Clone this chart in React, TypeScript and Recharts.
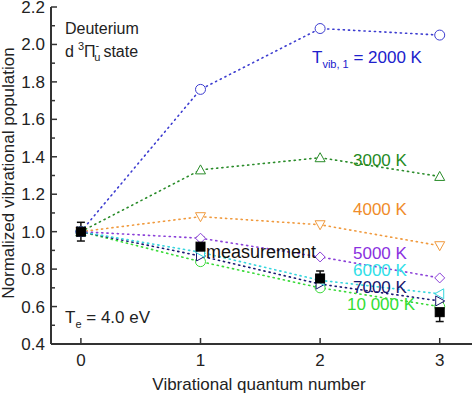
import { ComposedChart, Line, XAxis, YAxis, ErrorBar } from "recharts";

const levels = [0, 1, 2, 3];
const t2000 = [1.0, 1.76, 2.085, 2.05];
const t3000 = [1.0, 1.33, 1.395, 1.295];
const t4000 = [1.0, 1.08, 1.037, 0.925];
const t5000 = [1.0, 0.965, 0.865, 0.753];
const t6000 = [1.0, 0.89, 0.74, 0.668];
const t7000 = [1.0, 0.87, 0.72, 0.63];
const t10000 = [1.0, 0.84, 0.70, 0.60];
const measured = [1.0, 0.92, 0.75, 0.57];
const measuredErr = [0.05, 0.05, 0.04, 0.05];

const yMajor = [0.4, 0.6, 0.8, 1.0, 1.2, 1.4, 1.6, 1.8, 2.0, 2.2];
const yMinor = [0.5, 0.7, 0.9, 1.1, 1.3, 1.5, 1.7, 1.9, 2.1];
const xMajor = [0, 1, 2, 3];

const data = levels.map((v, i) => ({
  v,
  t2000: t2000[i],
  t3000: t3000[i],
  t4000: t4000[i],
  t5000: t5000[i],
  t6000: t6000[i],
  t7000: t7000[i],
  t10000: t10000[i],
  meas: measured[i],
  err: measuredErr[i],
}));

const FONT = "'Liberation Sans', Arial, sans-serif";
const AXIS = "#333";

const isMajor = (v: number) => yMajor.some((m) => Math.abs(m - v) < 1e-6);

const LeftTick = (p: any) => {
  const major = isMajor(p.payload.value);
  return (
    <g>
      <line x1={p.x} x2={p.x + (major ? 6 : 4)} y1={p.y} y2={p.y} stroke={AXIS} strokeWidth={1.5} />
      {major && (
        <text x={p.x - 6} y={p.y + 6} textAnchor="end" fontSize={17} fontFamily={FONT} fill="#222">
          {p.payload.value.toFixed(1)}
        </text>
      )}
    </g>
  );
};

const RightTick = (p: any) => {
  const major = isMajor(p.payload.value);
  return <line x1={p.x} x2={p.x - (major ? 6 : 4)} y1={p.y} y2={p.y} stroke={AXIS} strokeWidth={1.5} />;
};

const BottomTick = (p: any) => (
  <g>
    <line x1={p.x} x2={p.x} y1={p.y} y2={p.y - 6} stroke={AXIS} strokeWidth={1.5} />
    <text x={p.x} y={p.y + 22} textAnchor="middle" fontSize={17} fontFamily={FONT} fill="#222">
      {p.payload.value}
    </text>
  </g>
);

const TopTick = (p: any) => <line x1={p.x} x2={p.x} y1={p.y} y2={p.y + 7} stroke={AXIS} strokeWidth={1.5} />;

const makeDot = (shape: string, color: string) => (p: any) => {
  const { cx, cy, index } = p;
  if (cx == null || cy == null) return <g key={index} />;
  const s = 5;
  let el;
  if (shape === "circle") el = <circle cx={cx} cy={cy} r={s} />;
  else if (shape === "up") el = <polygon points={`${cx},${cy - s} ${cx - s},${cy + s * 0.8} ${cx + s},${cy + s * 0.8}`} />;
  else if (shape === "down") el = <polygon points={`${cx},${cy + s} ${cx - s},${cy - s * 0.8} ${cx + s},${cy - s * 0.8}`} />;
  else if (shape === "diamond") el = <polygon points={`${cx},${cy - s} ${cx + s},${cy} ${cx},${cy + s} ${cx - s},${cy}`} />;
  else if (shape === "left") el = <polygon points={`${cx - s},${cy} ${cx + s * 0.8},${cy - s} ${cx + s * 0.8},${cy + s}`} />;
  else if (shape === "right") el = <polygon points={`${cx + s},${cy} ${cx - s * 0.8},${cy - s} ${cx - s * 0.8},${cy + s}`} />;
  else el = <rect x={cx - 4.5} y={cy - 4.5} width={9} height={9} />;
  const filled = shape === "square";
  return (
    <g key={index} fill={filled ? "#000" : "#fff"} stroke={color} strokeWidth={1}>
      {el}
    </g>
  );
};

const series = [
  { key: "t10000", color: "#3ada3a", shape: "circle" },
  { key: "t7000", color: "#1a1a72", shape: "right" },
  { key: "t6000", color: "#36d6de", shape: "left" },
  { key: "t5000", color: "#8a3fd8", shape: "diamond" },
  { key: "t4000", color: "#f09a3e", shape: "down" },
  { key: "t3000", color: "#2a8c2a", shape: "up" },
  { key: "t2000", color: "#3c3cd0", shape: "circle" },
];

export default function App() {
  return (
    <div style={{ position: "absolute", left: 0, top: 0, width: 474, height: 397, background: "#fff" }}>
      <ComposedChart width={474} height={397} data={data} margin={{ top: 7, right: 2, bottom: 0, left: 0 }}>
        <XAxis
          xAxisId={0}
          dataKey="v"
          type="number"
          domain={[-0.25, 3.27]}
          ticks={xMajor}
          height={53}
          axisLine={{ stroke: AXIS, strokeWidth: 2 }}
          tickLine={false}
          tickSize={0}
          tickMargin={0}
          tick={<BottomTick />}
          interval={0}
        />
        <XAxis
          xAxisId="top"
          orientation="top"
          dataKey="v"
          type="number"
          domain={[-0.25, 3.27]}
          ticks={xMajor}
          height={0}
          axisLine={{ stroke: AXIS, strokeWidth: 2 }}
          tickLine={false}
          tickSize={0}
          tickMargin={0}
          tick={<TopTick />}
          interval={0}
        />
        <YAxis
          yAxisId={0}
          type="number"
          domain={[0.4, 2.2]}
          ticks={[...yMajor, ...yMinor].sort((a, b) => a - b)}
          width={51}
          axisLine={{ stroke: AXIS, strokeWidth: 2 }}
          tickLine={false}
          tickSize={0}
          tickMargin={0}
          tick={<LeftTick />}
          interval={0}
        />
        <YAxis
          yAxisId="right"
          orientation="right"
          type="number"
          domain={[0.4, 2.2]}
          ticks={[...yMajor, ...yMinor].sort((a, b) => a - b)}
          width={0}
          axisLine={{ stroke: AXIS, strokeWidth: 2 }}
          tickLine={false}
          tickSize={0}
          tickMargin={0}
          tick={<RightTick />}
          interval={0}
        />
        {series.map((s) => (
          <Line
            key={s.key}
            xAxisId={0}
            yAxisId={0}
            dataKey={s.key}
            type="linear"
            stroke={s.color}
            strokeWidth={1.6}
            strokeDasharray="1.2 4"
            strokeLinecap="round"
            dot={makeDot(s.shape, s.color)}
            activeDot={false}
            isAnimationActive={false}
          />
        ))}
        <Line
          xAxisId={0}
          yAxisId={0}
          dataKey="meas"
          stroke="none"
          dot={makeDot("square", "#000")}
          activeDot={false}
          isAnimationActive={false}
        >
          <ErrorBar dataKey="err" direction="y" width={4} stroke="#111" strokeWidth={1.5} />
        </Line>
      </ComposedChart>
      <svg width={474} height={397} style={{ position: "absolute", left: 0, top: 0, pointerEvents: "none" }} fontFamily={FONT}>
        <text
          x={8}
          y={173}
          transform="rotate(-90 8 173)"
          textAnchor="middle"
          dominantBaseline="central"
          fontSize={17}
          fill="#222"
        >
          Normalized vibrational population
        </text>
        <text x={259} y={390} textAnchor="middle" fontSize={17} fill="#222">
          Vibrational quantum number
        </text>
        <text x={65} y={34} fontSize={16} fill="#222">Deuterium</text>
        <text x={65} y={57} fontSize={16} fill="#222">
          d<tspan dx={4} dy={-7} fontSize={11}>3</tspan>
          <tspan dy={7} fontSize={16}>Π</tspan>
          <tspan dy={-8} fontSize={11}>-</tspan>
          <tspan dx={-5} dy={12} fontSize={11}>u</tspan>
          <tspan dx={3} dy={-4} fontSize={16}>state</tspan>
        </text>
        <text x={312} y={63} fontSize={17} fill="#2020cc">
          T<tspan dy={5} fontSize={11}>vib, 1</tspan>
          <tspan dy={-5} fontSize={17}> = 2000 K</tspan>
        </text>
        <text x={353} y={166} fontSize={17} fill="#1f8a1f">3000 K</text>
        <text x={353} y={215} fontSize={17} fill="#f08c2a">4000 K</text>
        <text x={353} y={259} fontSize={17} fill="#8a30e0">5000 K</text>
        <text x={353} y={276} fontSize={17} fill="#30e0e8">6000 K</text>
        <text x={353} y={293} fontSize={17} fill="#16166e">7000 K</text>
        <text x={347} y={310} fontSize={17} fill="#33dd33">10 000 K</text>
        <text x={206} y={258} fontSize={18} fill="#111">measurement</text>
        <text x={65} y={323} fontSize={17} fill="#222">
          T<tspan dy={5} fontSize={11}>e</tspan>
          <tspan dy={-5} fontSize={17}> = 4.0 eV</tspan>
        </text>
      </svg>
    </div>
  );
}
